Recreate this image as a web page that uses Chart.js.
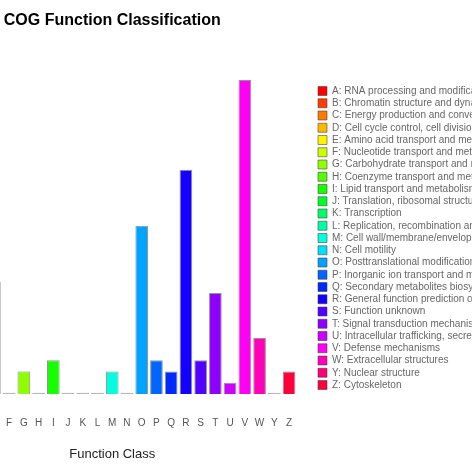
<!DOCTYPE html>
<html>
<head>
<meta charset="utf-8">
<script src="https://cdn.jsdelivr.net/npm/chart.js@4"></script>
<style>
    html, body { margin: 0; padding: 0; background: #fff; overflow: hidden; }
    body { width: 474px; height: 474px; position: relative; }
    /* the figure is cropped on the left, so the canvas starts off-page */
    #wrap { position: absolute; left: -96px; top: 0; width: 570px; height: 474px; }
</style>
</head>
<body>
<div id="wrap"><canvas id="cog-chart"></canvas></div>
<script>
// COG classes (no X in this set)
const classes = ['A', 'B', 'C', 'D', 'E', 'F', 'G', 'H', 'I', 'J', 'K', 'L', 'M',
    'N', 'O', 'P', 'Q', 'R', 'S', 'T', 'U', 'V', 'W', 'Y', 'Z'];

const legendLabels = [
    'A: RNA processing and modification',
    'B: Chromatin structure and dynamics',
    'C: Energy production and conversion',
    'D: Cell cycle control, cell division, chromosome partitioning',
    'E: Amino acid transport and metabolism',
    'F: Nucleotide transport and metabolism',
    'G: Carbohydrate transport and metabolism',
    'H: Coenzyme transport and metabolism',
    'I: Lipid transport and metabolism',
    'J: Translation, ribosomal structure and biogenesis',
    'K: Transcription',
    'L: Replication, recombination and repair',
    'M: Cell wall/membrane/envelope biogenesis',
    'N: Cell motility',
    'O: Posttranslational modification, protein turnover, chaperones',
    'P: Inorganic ion transport and metabolism',
    'Q: Secondary metabolites biosynthesis, transport and catabolism',
    'R: General function prediction only',
    'S: Function unknown',
    'T: Signal transduction mechanisms',
    'U: Intracellular trafficking, secretion, and vesicular transport',
    'V: Defense mechanisms',
    'W: Extracellular structures',
    'Y: Nuclear structure',
    'Z: Cytoskeleton'
];

// gene counts per class (A-D are outside the visible crop)
const counts = [0, 0, 0, 0, 10, 0, 2, 0, 3, 0, 0, 0, 2, 0, 15, 3, 2, 20, 3, 9, 1, 28, 5, 0, 2];

// rainbow palette, one colour per class
const colors = ['#FF0000', '#FF3D00', '#FF7A00', '#FFB800', '#FFF500', '#CCFF00', '#8FFF00',
    '#52FF00', '#14FF00', '#00FF29', '#00FF66', '#00FFA3', '#00FFE0', '#00E0FF', '#00A3FF',
    '#0066FF', '#0029FF', '#1400FF', '#5200FF', '#8F00FF', '#CC00FF', '#FF00F5', '#FF00B8',
    '#FF007A', '#FF003D'];

const fontFamily = "'Liberation Sans', Arial, sans-serif";
const outline = 'rgba(60, 60, 60, 0.55)';

const ctx = document.getElementById('cog-chart').getContext('2d');
const chart = new Chart(ctx, {
    type: 'bar',
    data: {
        labels: classes,
        datasets: [{
            label: 'Count',
            data: counts,
            // empty classes show up as a grey stub on the baseline
            backgroundColor: c => counts[c.dataIndex] === 0 ? '#a0a0a0' : colors[c.dataIndex],
            borderColor: c => counts[c.dataIndex] === 0 ? '#a0a0a0' : outline,
            borderWidth: 1,
            minBarLength: 1.2,
            barPercentage: 0.86,
            categoryPercentage: 1.0
        }]
    },
    options: {
        responsive: true,
        maintainAspectRatio: false,
        animation: false,
        layout: {
            padding: { left: 24.1, right: 2.25, top: 0, bottom: 0 }
        },
        plugins: {
            title: {
                display: true,
                text: 'COG Function Classification',
                fullSize: false,
                color: '#000',
                font: { family: fontFamily, size: 16, weight: 'bold' },
                padding: { top: 10.9, bottom: 49.9 }
            },
            legend: {
                position: 'right',
                align: 'start',
                fullSize: false,
                maxWidth: 156,
                onClick: null,
                title: {
                    display: true,
                    text: '',
                    font: { size: 1, lineHeight: 1 },
                    padding: { top: 2.75, bottom: 0 }
                },
                labels: {
                    boxWidth: 9,
                    boxHeight: 9,
                    padding: 2.25,
                    color: '#1a1a1a',
                    font: { family: fontFamily, size: 10 },
                    generateLabels: () => legendLabels.map((text, i) => ({
                        text: text,
                        fillStyle: colors[i],
                        strokeStyle: outline,
                        lineWidth: 1,
                        hidden: false,
                        index: i
                    }))
                }
            },
            tooltip: { enabled: false }
        },
        scales: {
            x: {
                // tick marks are hidden; their length only spaces the labels
                grid: { display: false, drawTicks: true, tickLength: 23 },
                border: { display: false },
                ticks: {
                    padding: 0,
                    autoSkip: false,
                    maxRotation: 0,
                    color: '#555',
                    font: { family: fontFamily, size: 10 }
                },
                title: {
                    display: true,
                    text: 'Function Class',
                    color: '#222',
                    font: { family: fontFamily, size: 13 },
                    padding: { top: 17.2, bottom: 12.2 }
                }
            },
            y: {
                display: false,
                min: 0,
                max: 28
            },
            // empty spacer between the plot and the legend
            y2: {
                type: 'linear',
                position: 'right',
                display: true,
                grid: { display: false, drawTicks: false },
                border: { display: false },
                ticks: { display: false },
                afterFit: scale => { scale.width = 19.35; }
            }
        }
    }
});
</script>
</body>
</html>
